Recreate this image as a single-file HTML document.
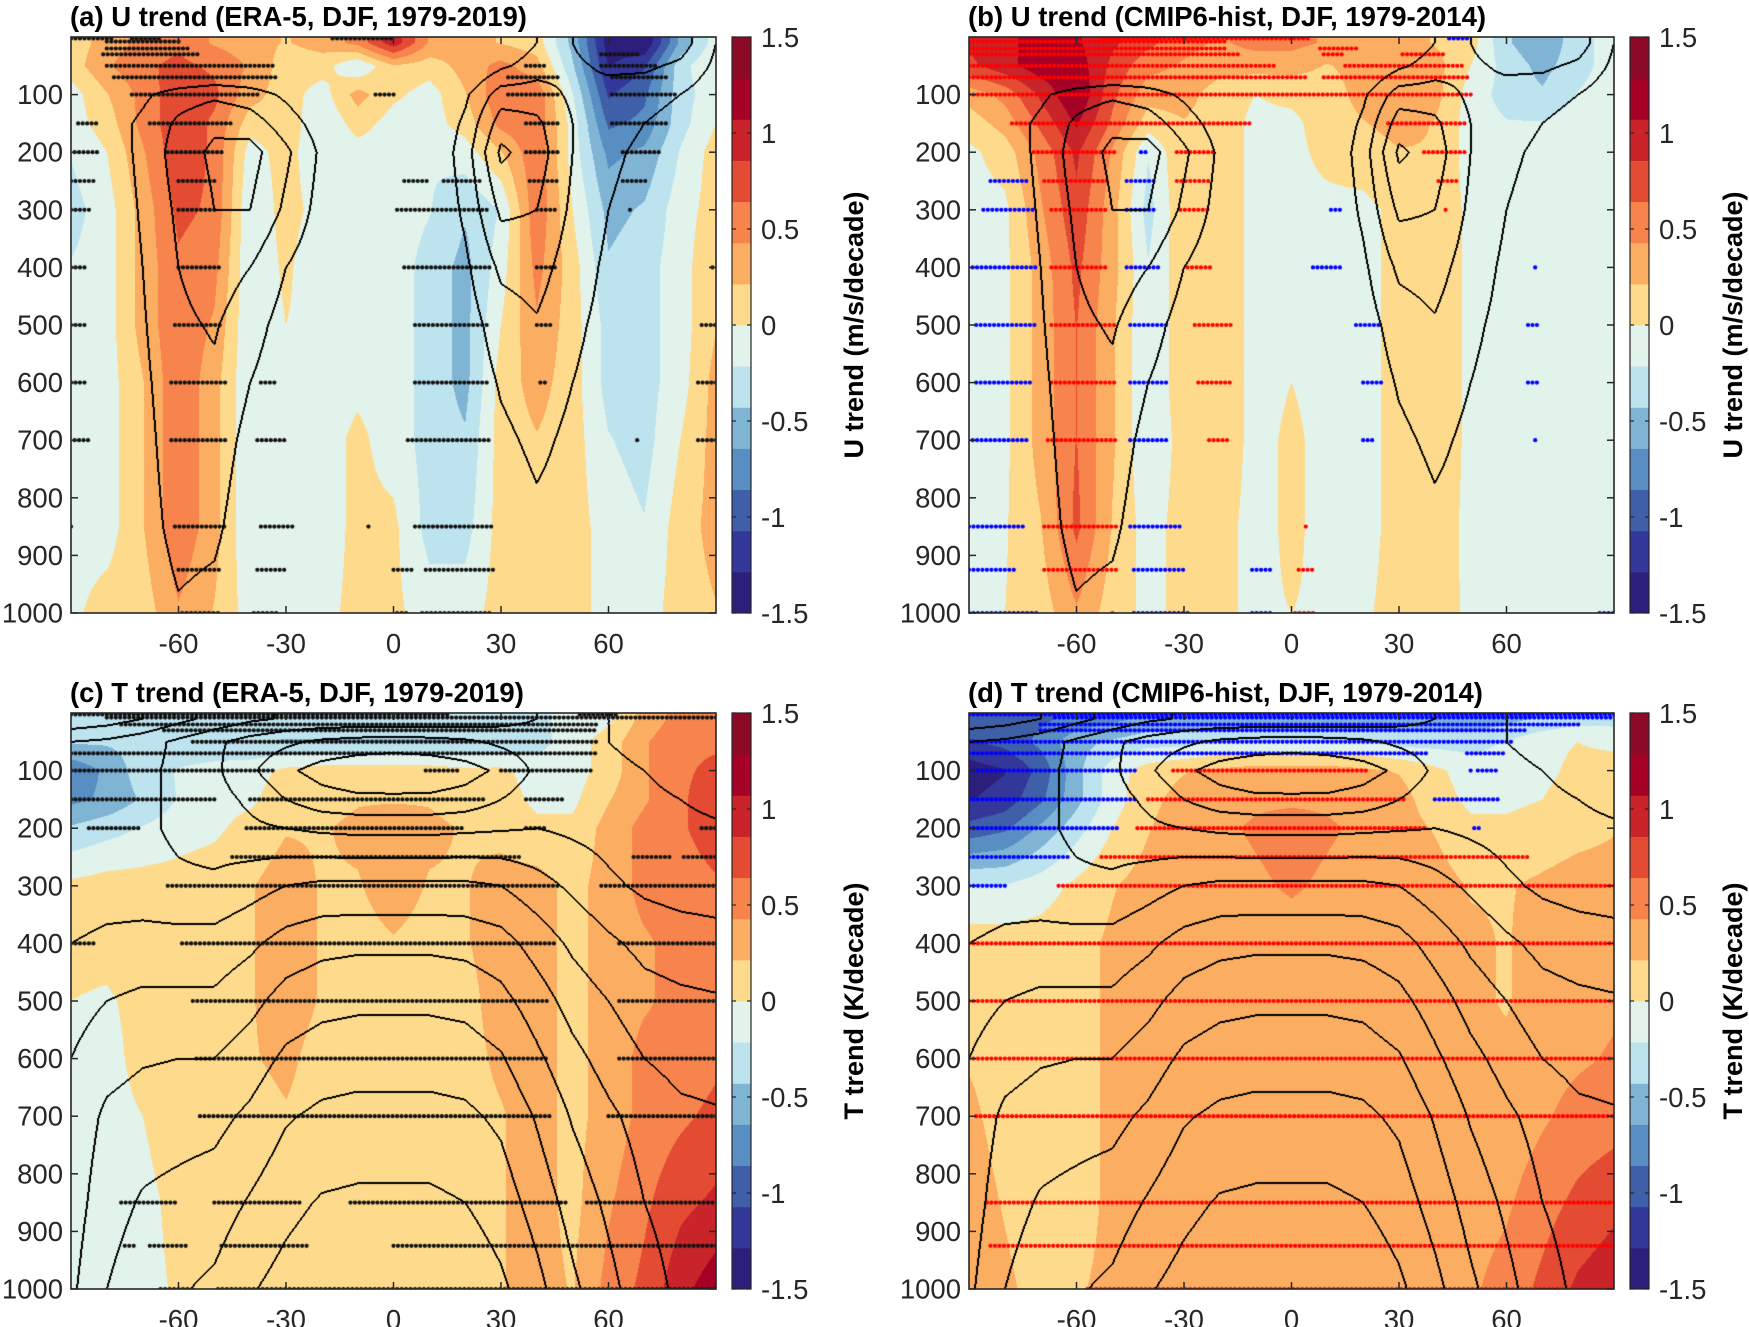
<!DOCTYPE html>
<html><head><meta charset="utf-8">
<style>
html,body{margin:0;padding:0;background:#fff;}
body{width:1749px;height:1327px;position:relative;overflow:hidden;font-family:"Liberation Sans",Arial,sans-serif;}
canvas{position:absolute;display:block;}
svg{position:absolute;left:0;top:0;}
</style></head>
<body>
<canvas id="cA" width="645" height="576" style="left:71px;top:37px"></canvas>
<canvas id="cB" width="645" height="576" style="left:969px;top:37px"></canvas>
<canvas id="cC" width="645" height="576" style="left:71px;top:713px"></canvas>
<canvas id="cD" width="645" height="576" style="left:969px;top:713px"></canvas>
<svg id="ax" width="1749" height="1327"></svg>
<script>
const LATS=[-90,-80,-70,-60,-50,-40,-30,-20,-10,0,10,20,30,40,50,60,70,80,90];
const PLEVS=[10,50,100,150,200,300,400,500,600,700,850,1000];
const Y_TICKS=[100,200,300,400,500,600,700,800,900,1000];
const X_TICKS=[-60,-30,0,30,60];
const CB_TICKS=[1.5,1,0.5,0,-0.5,-1,-1.5];
const CB_TICK_LABELS=['1.5','1','0.5','0','-0.5','-1','-1.5'];
const TITLES=['(a) U trend (ERA-5, DJF, 1979-2019)','(b) U trend (CMIP6-hist, DJF, 1979-2014)','(c) T trend (ERA-5, DJF, 1979-2019)','(d) T trend (CMIP6-hist, DJF, 1979-2014)'];
const CB_TITLES=['U trend (m/s/decade)','U trend (m/s/decade)','T trend (K/decade)','T trend (K/decade)'];

const uTrendERA5=[
[0.1,0.3,0.5,0.6,0.4,0.3,0.2,0.3,0.5,1.0,0.4,0.3,0.2,0.1,-0.5,-1.4,-1.5,-0.6,-0.1],
[0.1,0.4,0.6,0.7,0.6,0.4,0.1,0.1,-0.2,0.2,0.1,0.3,0.5,0.3,-0.4,-1.3,-1.1,-0.3,0.0],
[-0.1,0.2,0.5,0.8,0.7,0.3,0.1,-0.1,0.3,0.05,-0.1,0.2,0.6,0.6,-0.2,-1.1,-0.9,-0.3,-0.1],
[-0.1,0.1,0.5,0.8,0.6,0.1,0.15,-0.2,0.1,-0.1,-0.1,0.1,0.5,0.6,-0.1,-0.9,-0.8,-0.3,0.0],
[-0.2,0.0,0.4,0.8,0.6,-0.1,0.1,-0.2,-0.1,-0.1,-0.2,-0.1,0.2,0.6,-0.1,-0.7,-0.6,-0.2,0.1],
[-0.3,-0.1,0.3,0.7,0.6,-0.2,0.1,-0.1,-0.1,-0.1,-0.2,-0.4,-0.2,0.6,0.0,-0.5,-0.4,-0.1,0.1],
[-0.2,-0.1,0.3,0.6,0.5,-0.2,0.05,-0.2,-0.1,-0.1,-0.3,-0.5,-0.1,0.5,0.1,-0.4,-0.3,-0.1,0.2],
[-0.1,-0.1,0.3,0.6,0.4,-0.2,0.0,-0.1,-0.1,-0.1,-0.3,-0.5,0.0,0.4,0.1,-0.3,-0.3,-0.1,0.2],
[-0.1,-0.1,0.2,0.6,0.3,-0.2,-0.05,-0.1,-0.05,-0.1,-0.3,-0.5,0.1,0.3,0.1,-0.3,-0.3,-0.1,0.3],
[-0.1,-0.1,0.2,0.6,0.3,-0.2,-0.1,-0.1,0.05,-0.1,-0.3,-0.4,0.1,0.2,0.1,-0.2,-0.3,0.0,0.3],
[-0.1,-0.1,0.2,0.6,0.3,-0.2,-0.1,-0.1,0.05,0.05,-0.3,-0.3,0.1,0.2,0.1,-0.1,-0.2,0.1,0.3],
[-0.05,0.1,0.1,0.4,0.2,-0.1,-0.1,-0.05,0.05,0.05,-0.1,-0.1,0.1,0.15,0.1,-0.1,-0.1,0.1,0.2]];

const uTrendCMIP6=[
[0.9,1.0,1.2,1.1,0.9,0.7,0.5,0.4,0.5,0.5,0.4,0.3,0.3,0.2,0.1,-0.4,-0.6,-0.3,-0.1],
[0.8,1.0,1.2,1.2,0.8,0.5,0.4,0.3,0.3,0.3,0.2,0.3,0.4,0.3,0.0,-0.3,-0.5,-0.3,-0.1],
[0.3,0.5,0.9,1.3,0.7,0.3,0.3,0.1,0.0,0.05,0.1,0.3,0.4,0.3,-0.1,-0.3,-0.4,-0.2,-0.1],
[0.1,0.3,0.7,1.1,0.6,0.1,0.2,0.1,-0.05,-0.05,0.1,0.2,0.3,0.2,-0.1,-0.2,-0.2,-0.1,0.0],
[-0.05,0.1,0.5,0.9,0.4,-0.2,0.2,0.1,-0.05,-0.05,0.05,0.1,0.2,0.2,-0.1,-0.1,-0.1,-0.05,0.0],
[-0.1,-0.05,0.4,0.8,0.3,-0.3,0.2,0.1,-0.05,-0.05,-0.05,-0.05,0.05,0.15,-0.05,-0.1,-0.05,-0.05,-0.05],
[-0.1,-0.05,0.3,0.7,0.3,-0.2,0.15,0.1,-0.05,-0.05,-0.05,-0.05,0.05,0.15,-0.05,-0.05,-0.05,-0.05,-0.05],
[-0.1,-0.05,0.3,0.65,0.25,-0.2,0.15,0.1,-0.05,-0.05,-0.05,-0.05,0.05,0.15,-0.05,-0.05,-0.05,-0.05,-0.05],
[-0.1,-0.05,0.3,0.65,0.25,-0.2,0.15,0.1,-0.05,0.0,-0.05,-0.05,0.05,0.15,-0.05,-0.05,-0.05,-0.05,-0.05],
[-0.1,-0.05,0.3,0.65,0.25,-0.2,0.1,0.1,-0.05,0.03,-0.05,-0.05,0.05,0.15,-0.05,-0.05,-0.05,-0.05,-0.05],
[-0.05,-0.02,0.2,0.7,0.2,-0.1,0.1,0.05,-0.05,0.03,-0.05,-0.05,0.05,0.1,-0.05,-0.05,-0.05,-0.05,-0.05],
[-0.02,0.0,0.1,0.4,0.1,-0.05,0.05,0.02,-0.02,0.0,-0.02,-0.02,0.05,0.05,-0.02,-0.02,-0.02,-0.02,-0.02]];

const tTrendERA5=[
[-0.35,-0.4,-0.4,-0.4,-0.35,-0.35,-0.3,-0.3,-0.3,-0.3,-0.3,-0.3,-0.3,-0.25,-0.15,-0.05,0.3,0.5,0.6],
[-0.4,-0.4,-0.35,-0.35,-0.35,-0.4,-0.45,-0.45,-0.45,-0.45,-0.45,-0.45,-0.4,-0.3,-0.1,0.1,0.4,0.6,0.6],
[-0.8,-0.6,-0.3,-0.2,-0.15,-0.1,0.05,0.1,0.1,0.1,0.1,0.05,0.05,-0.1,-0.1,0.1,0.4,0.6,0.7],
[-0.7,-0.6,-0.4,-0.2,-0.1,-0.05,0.15,0.15,0.2,0.2,0.2,0.15,0.1,-0.05,-0.05,0.2,0.4,0.6,0.8],
[-0.4,-0.3,-0.2,-0.1,-0.05,0.1,0.2,0.2,0.25,0.3,0.25,0.2,0.15,0.05,0.05,0.3,0.5,0.6,0.8],
[0.05,0.1,0.1,0.1,0.15,0.2,0.3,0.2,0.2,0.3,0.2,0.2,0.3,0.3,0.15,0.3,0.5,0.5,0.6],
[0.05,0.05,0.1,0.1,0.15,0.2,0.3,0.2,0.15,0.2,0.15,0.2,0.3,0.3,0.15,0.3,0.4,0.5,0.5],
[0.0,-0.02,0.05,0.1,0.15,0.2,0.3,0.2,0.15,0.15,0.15,0.15,0.3,0.3,0.15,0.3,0.4,0.5,0.5],
[-0.05,-0.05,0.05,0.1,0.1,0.2,0.25,0.15,0.15,0.15,0.15,0.15,0.25,0.3,0.15,0.3,0.5,0.5,0.6],
[-0.05,-0.05,0.0,0.1,0.1,0.15,0.2,0.15,0.15,0.15,0.15,0.15,0.2,0.3,0.15,0.3,0.5,0.6,0.7],
[-0.05,-0.05,-0.05,0.05,0.1,0.15,0.2,0.15,0.15,0.15,0.15,0.15,0.2,0.3,0.15,0.4,0.6,0.8,0.9],
[-0.05,-0.05,-0.05,0.02,0.1,0.15,0.15,0.15,0.15,0.15,0.15,0.15,0.2,0.3,0.2,0.5,0.7,1.0,1.2]];

const tTrendCMIP6=[
[-0.9,-1.0,-0.9,-0.8,-0.7,-0.6,-0.6,-0.6,-0.6,-0.6,-0.6,-0.6,-0.6,-0.6,-0.6,-0.5,-0.4,-0.3,-0.3],
[-1.1,-1.0,-0.8,-0.5,-0.4,-0.3,-0.3,-0.2,-0.2,-0.2,-0.2,-0.2,-0.3,-0.3,-0.3,-0.2,-0.05,0.0,-0.05],
[-1.4,-1.3,-1.0,-0.5,-0.1,0.1,0.2,0.25,0.3,0.3,0.3,0.25,0.2,0.05,-0.1,-0.1,-0.05,0.05,0.1],
[-1.3,-1.2,-0.9,-0.5,-0.1,0.15,0.3,0.35,0.4,0.4,0.4,0.35,0.3,0.1,-0.05,-0.05,0.0,0.1,0.15],
[-1.0,-0.9,-0.6,-0.3,0.0,0.2,0.35,0.4,0.45,0.5,0.45,0.4,0.3,0.2,0.05,0.05,0.1,0.15,0.2],
[-0.2,-0.2,-0.1,0.05,0.2,0.3,0.35,0.35,0.4,0.45,0.4,0.35,0.35,0.3,0.2,0.2,0.25,0.3,0.3],
[0.1,0.1,0.1,0.15,0.25,0.3,0.35,0.3,0.35,0.35,0.35,0.3,0.35,0.3,0.25,0.2,0.3,0.3,0.35],
[0.15,0.1,0.1,0.15,0.25,0.3,0.35,0.3,0.3,0.3,0.3,0.3,0.35,0.3,0.25,0.2,0.3,0.35,0.4],
[0.2,0.15,0.1,0.15,0.25,0.3,0.35,0.3,0.3,0.3,0.3,0.3,0.35,0.3,0.25,0.25,0.35,0.4,0.45],
[0.25,0.15,0.1,0.15,0.25,0.3,0.3,0.3,0.3,0.3,0.3,0.3,0.3,0.3,0.3,0.3,0.4,0.5,0.55],
[0.3,0.2,0.1,0.15,0.25,0.3,0.3,0.3,0.3,0.3,0.3,0.3,0.3,0.3,0.35,0.4,0.55,0.7,0.8],
[0.35,0.25,0.15,0.2,0.25,0.3,0.3,0.3,0.3,0.3,0.3,0.3,0.3,0.35,0.4,0.5,0.7,0.9,1.0]];

const uClim=[
[-5,-10,-15,-18,-18,-18,-20,-22,-25,-25,-20,-10,0,10,20,28,30,25,10],
[-3,-5,-8,-8,-6,-6,-8,-12,-15,-15,-10,-2,8,15,18,22,22,18,8],
[0,3,8,15,18,15,8,0,-5,-6,-2,8,25,25,18,16,14,10,4],
[2,5,12,22,28,25,15,5,-3,-4,0,12,35,32,20,14,10,6,2],
[2,5,12,25,32,34,22,8,-2,-4,0,15,42,35,20,12,8,4,1],
[2,4,11,22,30,30,18,6,-2,-3,0,12,32,30,18,10,6,3,0],
[1,3,10,20,25,20,10,3,-2,-3,-1,8,22,24,15,8,4,2,0],
[1,3,9,18,21,14,6,2,-2,-3,-2,5,15,19,12,7,3,1,0],
[0,2,8,16,18,10,4,1,-2,-3,-2,3,11,15,10,6,3,1,0],
[0,2,7,15,15,7,2,0,-2,-3,-3,1,8,12,8,5,2,0,0],
[0,1,6,13,12,4,0,-1,-3,-4,-4,-1,4,8,6,3,1,0,0],
[0,0,4,9,7,2,-1,-2,-3,-4,-4,-2,1,4,3,1,0,0,0]];

const tClim=[
[258,255,250,243,237,232,229,228,228,228,228,227,224,220,215,210,205,202,200],
[240,238,234,228,222,216,212,208,206,205,206,208,212,215,214,210,205,202,200],
[238,236,232,228,222,212,202,196,193,192,193,196,202,212,216,214,210,207,205],
[236,234,232,228,224,218,210,204,202,202,202,204,210,216,217,215,212,210,208],
[234,233,232,228,225,222,220,218,217,217,217,218,219,220,218,216,213,212,211],
[232,234,234,232,232,236,240,242,242,242,242,242,240,234,228,222,218,216,215],
[240,243,244,244,244,248,254,257,258,258,258,257,254,246,238,232,227,225,224],
[246,250,252,252,252,257,264,267,268,268,268,267,263,255,246,240,234,232,231],
[250,256,259,260,260,265,272,275,276,276,276,275,271,262,253,246,240,237,236],
[253,262,265,266,267,272,279,282,283,283,283,282,278,269,259,252,246,242,241],
[255,266,271,273,275,281,287,291,292,292,292,290,285,276,266,258,250,246,245],
[258,270,276,279,282,289,294,298,300,300,300,298,292,283,272,263,254,248,246]];

const stippleA=[[2,-90,-78,'k'],[2,-73,-65,'k'],[2,-17,0,'k'],[8,-80,-60,'k'],[20,-80,-57,'k'],[30,-81,-54,'k'],[30,58,69,'k'],
[50,-80,-33,'k'],[50,37,43,'k'],[50,58,74,'k'],[70,-78,-33,'k'],[70,32,46,'k'],[70,61,77,'k'],
[100,-73,-38,'k'],[100,-5,1,'k'],[100,32,46,'k'],[100,61,79,'k'],
[150,-88,-83,'k'],[150,-68,-45,'k'],[150,37,46,'k'],[150,61,77,'k'],
[200,-89,-82,'k'],[200,-63,-48,'k'],[200,37,46,'k'],[200,64,75,'k'],
[250,-90,-83,'k'],[250,-60,-49,'k'],[250,3,10,'k'],[250,14,25,'k'],[250,38,46,'k'],[250,64,71,'k'],
[300,-90,-85,'k'],[300,-60,-49,'k'],[300,1,27,'k'],[300,40,45,'k'],[300,66,66,'k'],
[400,-90,-86,'k'],[400,-60,-48,'k'],[400,3,27,'k'],[400,40,45,'k'],[400,89,89,'k'],
[500,-90,-86,'k'],[500,-61,-48,'k'],[500,6,27,'k'],[500,40,44,'k'],[500,86,90,'k'],
[600,-90,-86,'k'],[600,-62,-47,'k'],[600,-37,-33,'k'],[600,6,27,'k'],[600,41,43,'k'],[600,85,90,'k'],
[700,-89,-85,'k'],[700,-62,-47,'k'],[700,-38,-30,'k'],[700,4,27,'k'],[700,68,68,'k'],[700,85,90,'k'],
[850,-90,-90,'k'],[850,-61,-47,'k'],[850,-37,-28,'k'],[850,-7,-7,'k'],[850,6,28,'k'],
[925,-60,-48,'k'],[925,-38,-30,'k'],[925,0,5,'k'],[925,9,28,'k'],
[1000,-59,-48,'k'],[1000,-39,-32,'k'],[1000,1,4,'k'],[1000,8,27,'k']];

const stippleB=[[2,-53,5,'r'],[2,44,50,'b'],[8,-90,-18,'r'],[20,-90,-18,'r'],[20,8,18,'r'],[30,-90,-15,'r'],[30,9,15,'r'],[30,31,43,'r'],
[50,-90,-5,'r'],[50,15,48,'r'],[70,-90,4,'r'],[70,9,49,'r'],[100,-90,50,'r'],[150,-78,-11,'r'],[150,27,49,'r'],
[200,-72,-49,'r'],[200,-42,-40,'b'],[200,-32,-22,'r'],[200,37,49,'r'],
[250,-84,-74,'b'],[250,-69,-51,'r'],[250,-46,-38,'b'],[250,-32,-23,'r'],[250,41,47,'r'],
[300,-86,-72,'b'],[300,-67,-51,'r'],[300,-46,-38,'b'],[300,-31,-23,'r'],[300,11,14,'b'],[300,43,43,'r'],
[400,-89,-71,'b'],[400,-67,-51,'r'],[400,-46,-37,'b'],[400,-29,-22,'r'],[400,6,14,'b'],[400,68,68,'b'],
[500,-88,-71,'b'],[500,-67,-49,'r'],[500,-45,-35,'b'],[500,-27,-17,'r'],[500,18,25,'b'],[500,66,69,'b'],
[600,-88,-72,'b'],[600,-67,-49,'r'],[600,-45,-35,'b'],[600,-26,-17,'r'],[600,20,25,'b'],[600,66,69,'b'],
[700,-89,-74,'b'],[700,-68,-49,'r'],[700,-45,-35,'b'],[700,-23,-17,'r'],[700,20,23,'b'],[700,68,68,'b'],
[850,-90,-74,'b'],[850,-69,-49,'r'],[850,-45,-31,'b'],[850,4,4,'r'],
[925,-90,-77,'b'],[925,-69,-49,'r'],[925,-44,-30,'b'],[925,-11,-6,'b'],[925,2,6,'r'],
[1000,-90,-71,'b'],[1000,-50,-50,'r'],[1000,-44,-29,'b'],[1000,-11,-6,'b'],[1000,1,7,'r'],[1000,86,90,'b']];

const stippleC=[[2,-90,15,'k'],[2,52,62,'k'],[8,-80,90,'k'],[20,-76,57,'k'],[30,-64,56,'k'],[50,-56,57,'k'],[70,-90,57,'k'],
[100,-90,-33,'k'],[100,9,18,'k'],[100,30,55,'k'],[150,-90,-49,'k'],[150,-40,26,'k'],[150,37,47,'k'],
[200,-85,-71,'k'],[200,-41,20,'k'],[200,37,42,'k'],[200,86,90,'k'],
[250,-45,35,'k'],[250,67,77,'k'],[250,81,90,'k'],[300,-63,46,'k'],[300,58,90,'k'],
[400,-90,-83,'k'],[400,-59,45,'k'],[400,63,90,'k'],[500,-56,43,'k'],[500,63,90,'k'],
[600,-55,43,'k'],[600,63,90,'k'],[700,-54,44,'k'],[700,60,90,'k'],
[850,-76,-60,'k'],[850,-50,-26,'k'],[850,-12,49,'k'],[850,54,90,'k'],
[925,-75,-72,'k'],[925,-68,-58,'k'],[925,-48,-24,'k'],[925,0,90,'k'],
[1000,-65,-56,'k'],[1000,-49,90,'k']];

const stippleD=[[1,-90,90,'b'],[8,-66,89,'b'],[20,-70,80,'b'],[30,-70,65,'b'],[50,-90,62,'b'],[70,-90,38,'b'],[70,49,60,'b'],
[100,-90,-43,'b'],[100,-33,21,'r'],[100,50,50,'b'],[100,52,57,'b'],
[150,-90,-43,'b'],[150,-40,32,'r'],[150,40,58,'b'],
[200,-90,-48,'b'],[200,-43,37,'r'],[200,51,53,'b'],
[250,-90,-62,'b'],[250,-53,66,'r'],[300,-90,-80,'b'],[300,-65,90,'r'],
[400,-90,90,'r'],[500,-90,90,'r'],[600,-90,90,'r'],[700,-88,90,'r'],
[850,-85,90,'r'],[925,-84,90,'r'],[1000,-57,90,'r']];

const COLORS=['#2c1f7c','#34379a','#3f5fa8','#588ec2','#80b4d5','#bde3ee','#e2f3ec','#fedb8c','#fbad62','#f6844c','#e34b33','#c8242a','#a50026','#8c0a26'];
const DOTCOL={k:'#111111',r:'#ff0000',b:'#0000ff'};

const W=645,H=576;
const PANELS=[
 {id:'cA',x:71,y:37,trend:uTrendERA5,clim:uClim,kind:'u',stip:stippleA},
 {id:'cB',x:969,y:37,trend:uTrendCMIP6,clim:uClim,kind:'u',stip:stippleB},
 {id:'cC',x:71,y:713,trend:tTrendERA5,clim:tClim,kind:'t',stip:stippleC},
 {id:'cD',x:969,y:713,trend:tTrendCMIP6,clim:tClim,kind:'t',stip:stippleD}];

function xOfLat(lat){return (lat+90)/180*W;}
function yOfP(p){return p/1000*H;}
function sample(grid,lat,p){
  let fi=(lat-LATS[0])/10; let i0=Math.max(0,Math.min(LATS.length-2,Math.floor(fi))); let tx=Math.max(0,Math.min(1,fi-i0));
  let j0=0,ty=0;
  if(p<=PLEVS[0]){j0=0;ty=0;}
  else if(p>=PLEVS[PLEVS.length-1]){j0=PLEVS.length-2;ty=1;}
  else{for(let j=0;j<PLEVS.length-1;j++){if(p>=PLEVS[j]&&p<=PLEVS[j+1]){j0=j;ty=(p-PLEVS[j])/(PLEVS[j+1]-PLEVS[j]);break;}}}
  const a=grid[j0][i0],b=grid[j0][i0+1],c=grid[j0+1][i0],d=grid[j0+1][i0+1];
  return (a*(1-tx)+b*tx)*(1-ty)+(c*(1-tx)+d*tx)*ty;
}
function hex(h){return [parseInt(h.substr(1,2),16),parseInt(h.substr(3,2),16),parseInt(h.substr(5,2),16)];}
const RGB=COLORS.map(hex);
const STEP=1.5/7;

PANELS.forEach(P=>{
  const cv=document.getElementById(P.id); const ctx=cv.getContext('2d');
  const img=ctx.createImageData(W,H); const D=img.data;
  const lev=new Int16Array(W*H);
  for(let py=0;py<H;py++){
    const p=(py+0.5)/H*1000;
    for(let px=0;px<W;px++){
      const lat=(px+0.5)/W*180-90;
      const v=sample(P.trend,lat,p);
      let k=Math.floor(v/STEP); k=Math.max(-7,Math.min(6,k));
      const c=RGB[k+7]; const o=(py*W+px)*4;
      D[o]=c[0];D[o+1]=c[1];D[o+2]=c[2];D[o+3]=255;
      const f=sample(P.clim,lat,p);
      let L;
      if(P.kind==='u'){L=f<10?0:Math.min(4,Math.floor(f/10));}
      else{L=Math.floor(f/10);}
      lev[py*W+px]=L;
    }
  }
  const mark=new Uint8Array(W*H);
  for(let py=0;py<H;py++)for(let px=0;px<W;px++){
    const i=py*W+px;
    if(px<W-1&&lev[i]!==lev[i+1]){mark[i]=1;mark[i+1]=1;}
    if(py<H-1&&lev[i]!==lev[i+W]){mark[i]=1;mark[i+W]=1;}
  }
  ctx.putImageData(img,0,0);
  P.stip.forEach(s=>{
    ctx.fillStyle=DOTCOL[s[3]];
    const y=yOfP(s[0]);
    for(let lat=s[1];lat<=s[2]+0.01;lat+=1.25){
      ctx.beginPath();ctx.arc(xOfLat(lat),Math.max(1.5,y),2.1,0,Math.PI*2);ctx.fill();
    }
  });
  const img2=ctx.getImageData(0,0,W,H); const E=img2.data;
  for(let i=0;i<W*H;i++){if(mark[i]){E[i*4]=0;E[i*4+1]=0;E[i*4+2]=0;}}
  ctx.putImageData(img2,0,0);
});

const svg=document.getElementById('ax'); const NS='http://www.w3.org/2000/svg';
function el(tag,attrs,parent){const e=document.createElementNS(NS,tag);for(const k in attrs)e.setAttribute(k,attrs[k]);(parent||svg).appendChild(e);return e;}
const CBX=[732,1630];
const CBT_OFF=[131,112];
PANELS.forEach((P,pi)=>{
  const g=el('g',{});
  
  
  const box=el('rect',{x:P.x,y:P.y,width:W,height:H,fill:'none',stroke:'#262626','stroke-width':1.6},g);
  
  
  const t=el('text',{x:P.x-1,y:P.y-11,'font-size':27.5,'font-weight':'bold',fill:'#000'},g);
  t.textContent=TITLES[pi];
  
  
  Y_TICKS.forEach((v,i)=>{
    const y=P.y+yOfP(v);
    el('line',{x1:P.x,x2:P.x+7,y1:y,y2:y,stroke:'#262626','stroke-width':1.5},g);
    el('line',{x1:P.x+W-7,x2:P.x+W,y1:y,y2:y,stroke:'#262626','stroke-width':1.5},g);
    const tx=el('text',{x:P.x-8,y:y+9.5,'font-size':27.5,'text-anchor':'end',fill:'#262626'},g);
    tx.textContent=String(v);
    
    
  });
  X_TICKS.forEach(v=>{
    const x=P.x+xOfLat(v);
    el('line',{x1:x,x2:x,y1:P.y+H-7,y2:P.y+H,stroke:'#262626','stroke-width':1.5},g);
    el('line',{x1:x,x2:x,y1:P.y,y2:P.y+7,stroke:'#262626','stroke-width':1.5},g);
    const tx=el('text',{x:x,y:P.y+H+40,'font-size':27.5,'text-anchor':'middle',fill:'#262626'},g);
    tx.textContent=String(v);
    
    
  });
  const cx=CBX[pi%2]; const cw=19;
  const cb=el('g',{},g);
  
  
  COLORS.forEach((c,i)=>{
    const hh=H/COLORS.length;
    el('rect',{x:cx,y:P.y+H-(i+1)*hh,width:cw,height:hh+0.5,fill:c},cb);
  });
  el('rect',{x:cx,y:P.y,width:cw,height:H,fill:'none',stroke:'#262626','stroke-width':1.2},cb);
  CB_TICKS.forEach((v,i)=>{
    const y=P.y+H*(1.5-v)/3;
    el('line',{x1:cx,x2:cx+4,y1:y,y2:y,stroke:'#262626','stroke-width':1.2},cb);
    el('line',{x1:cx+cw-4,x2:cx+cw,y1:y,y2:y,stroke:'#262626','stroke-width':1.2},cb);
    const tx=el('text',{x:cx+29,y:y+10,'font-size':27.5,fill:'#262626'},cb);
    tx.textContent=CB_TICK_LABELS[i];
    
    
  });
  const ct=el('text',{x:0,y:0,'font-size':27,'font-weight':'bold','text-anchor':'middle',fill:'#000',transform:'translate('+(cx+CBT_OFF[pi%2])+','+(P.y+H/2)+') rotate(-90)'},cb);
  ct.textContent=CB_TITLES[pi];
  
  
});
</script>
</body></html>
